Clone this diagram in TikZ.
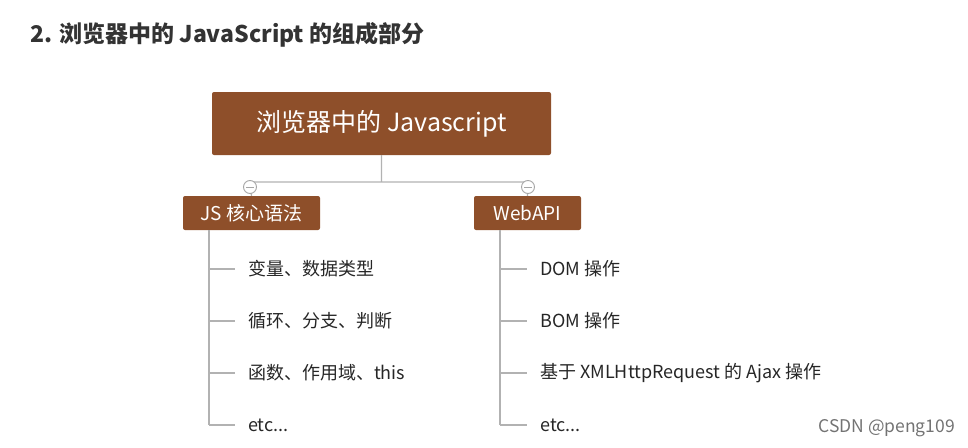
\documentclass[tikz,border=0pt]{standalone}
\usepackage{fontspec}
\setmainfont{Noto Sans CJK SC}
\usetikzlibrary{calc}
\def\myetc{etc...}
\begin{document}
\begin{tikzpicture}[x=1pt,y=-1pt,
  ln/.style={draw=gray!60,line width=1.3pt},
  item/.style={anchor=west,font=\fontsize{18}{20}\selectfont,text=black!85,inner sep=0pt},
  minus/.style={circle,draw=gray!70,fill=white,line width=0.9pt,minimum size=13pt,inner sep=0pt}]
\definecolor{brown1}{HTML}{8E4F2A}
\useasboundingbox (0,0) rectangle (968,447);
\node[anchor=west,inner sep=0pt,font=\fontsize{23}{25}\selectfont\bfseries,text=black!80] (title) at (30,35) {2. 浏览器中的 JavaScript 的组成部分};
\node[fill=brown1,text=white,rounded corners=2pt,minimum width=339pt,minimum height=63pt,font=\fontsize{25}{28}\selectfont] (root) at (381.5,123.5) {浏览器中的 Javascript};
\node[fill=brown1,text=white,rounded corners=2pt,minimum width=137pt,minimum height=34pt,font=\fontsize{19}{21}\selectfont] (js) at (251.5,213) {JS 核心语法};
\node[fill=brown1,text=white,rounded corners=2pt,minimum width=107pt,minimum height=34pt,font=\fontsize{19}{21}\selectfont] (web) at (527.5,213) {WebAPI};
\coordinate (mid) at (381.5,182);
\coordinate (lc) at (250,182);
\coordinate (rc) at (528,182);
\draw[ln] (root.south) -- (mid) (lc) -- (rc) (lc) -- (js.north) (rc) -- (web.north);
\node[minus] (m1) at (250,187) {}; \draw[gray!70,line width=0.9pt] ($(m1)+(-4,0)$) -- ($(m1)+(4,0)$);
\node[minus] (m2) at (528,187) {}; \draw[gray!70,line width=0.9pt] ($(m2)+(-4,0)$) -- ($(m2)+(4,0)$);
\coordinate (lt) at (209,230); \coordinate (lb) at (209,425);
\draw[ln] (lt) -- (lb);
\foreach \y/\t/\n in {269/变量、数据类型/a,321/循环、分支、判断/b,373/函数、作用域、this/c,425/\myetc/d}{
  \coordinate (l\n) at (209,\y);
  \node[item] (L\n) at (248,\y) {\t};
  \draw[ln] (l\n) -- (235,\y);
}
\coordinate (rt) at (500,230); \coordinate (rb) at (500,425);
\draw[ln] (rt) -- (rb);
\foreach \y/\t/\n in {269/DOM 操作/a,321/BOM 操作/b,373/基于 XMLHttpRequest 的 Ajax 操作/c,425/\myetc/d}{
  \coordinate (r\n) at (500,\y);
  \node[item] (R\n) at (540,\y) {\t};
  \draw[ln] (r\n) -- (527,\y);
}
\node[anchor=east,inner sep=0pt,text=black!55,font=\fontsize{17.5}{19}\selectfont] (wm) at (955,428) {CSDN @peng109};
\end{tikzpicture}
\end{document}
